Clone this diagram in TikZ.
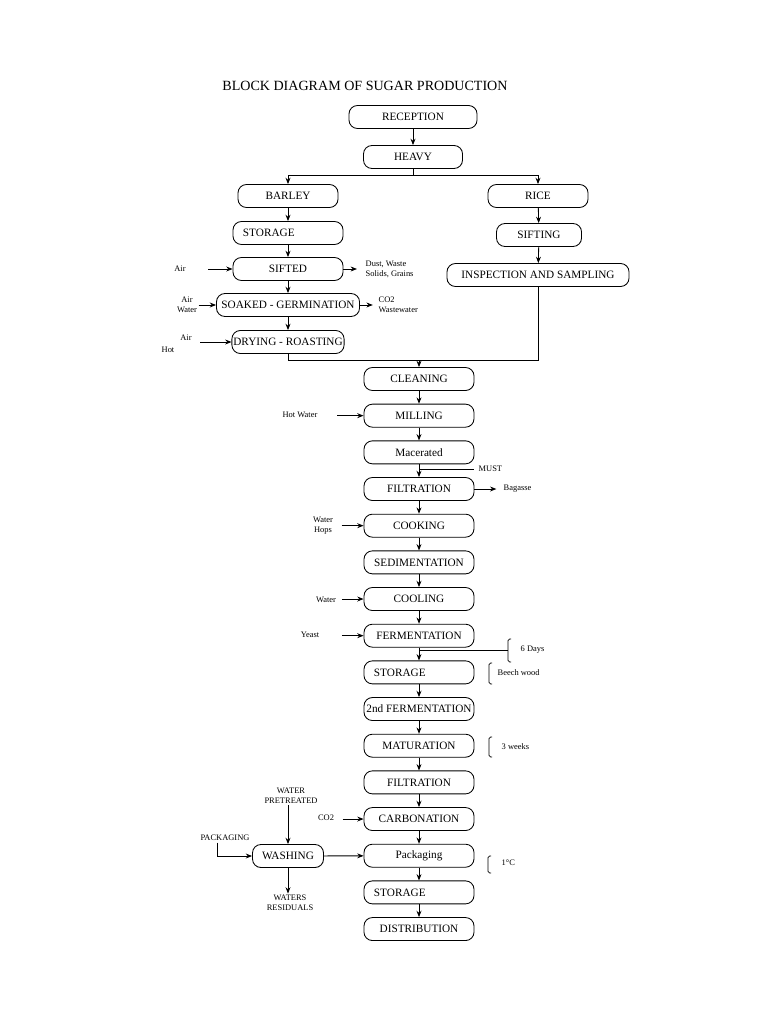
\documentclass[tikz,border=0pt]{standalone}
\usepackage{fontspec}
\setmainfont{Liberation Serif}
\usetikzlibrary{arrows.meta,positioning}
\tikzset{
    stage/.style={draw, rounded corners=6pt, line width=0.6pt,
        minimum width=#1, minimum height=0.575cm, inner sep=1pt,
        font=\fontsize{8}{9.5}\selectfont},
    stage/.default=2.75cm,
    stageleft/.style={stage, text width=2.25cm, align=left, inner xsep=0.25cm},
    flow/.style={line width=0.6pt, -{Stealth[length=4.5pt, width=3.5pt]}},
    plain/.style={line width=0.6pt},
    lbl/.style={font=\fontsize{6}{7}\selectfont, inner sep=1pt, align=center},
    bracketline/.style={line width=0.5pt, rounded corners=1.2pt}
}

\begin{document}
\begin{tikzpicture}[x=0.025cm, y=-0.025cm]
    \fill[white] (0,0) rectangle (768,1024);
    \useasboundingbox (0,0) rectangle (768,1024);

    \node[font=\fontsize{10}{12}\selectfont] (title) at (365,86) {BLOCK DIAGRAM OF SUGAR PRODUCTION};

    \node[stage=3.2cm] (recep) at (413,117) {RECEPTION};
    \node[stage=2.475cm] (heavy) at (413,157) {HEAVY};
    \node[stage=2.5cm] (barley) at (288,196) {BARLEY};
    \node[stage=2.5cm] (rice) at (538,196) {RICE};
    \node[stageleft] (bstore) at (288,233) {STORAGE};
    \node[stage] (sifted) at (288,269) {SIFTED};
    \node[stage=3.575cm] (soaked) at (288,305) {SOAKED - GERMINATION};
    \node[stage] (drying) at (288,342) {DRYING - ROASTING};
    \node[stage=2.125cm] (sifting) at (539,235) {SIFTING};
    \node[stage=4.55cm] (inspect) at (538,275) {INSPECTION AND SAMPLING};

    % main column
    \foreach \nm/\txt/\sty [count=\i] in {
        clean/CLEANING/stage, mill/MILLING/stage, mace/Macerated/stage,
        filt/FILTRATION/stage, cook/COOKING/stage, sedi/SEDIMENTATION/stage,
        cool/COOLING/stage, ferm/FERMENTATION/stage, store/STORAGE/stageleft,
        ferm2/2nd FERMENTATION/stage, matur/MATURATION/stage, filt2/FILTRATION/stage,
        carb/CARBONATION/stage, pack/Packaging/stage, store2/STORAGE/stageleft,
        distr/DISTRIBUTION/stage}{
        \node[\sty] (\nm) at (419, {379+(\i-1)*36.67}) {\txt};
    }
    \foreach \a/\b in {clean/mill, mill/mace, mace/filt, filt/cook, cook/sedi,
        sedi/cool, cool/ferm, ferm/store, store/ferm2, ferm2/matur,
        matur/filt2, filt2/carb, carb/pack, pack/store2, store2/distr}{
        \draw[flow] (\a) -- (\b);
    }

    \draw[flow] (recep) -- (heavy);
    \coordinate (split) at (413,175);
    \draw[plain] (heavy) -- (split);
    \draw[flow] (split) -| (barley);
    \draw[flow] (split) -| (rice);
    \foreach \a/\b in {barley/bstore, bstore/sifted, sifted/soaked, soaked/drying,
        rice/sifting, sifting/inspect}{
        \draw[flow] (\a) -- (\b);
    }
    \coordinate (join) at (419,360);
    \draw[plain] (drying.south) |- (join);
    \draw[plain] (inspect.south) |- (join);
    \draw[flow] (join) -- (clean);

    % inputs and outputs
    \node[lbl] (air1) at (180,269) {Air};
    \node[lbl, anchor=west, align=left] (dust) at (364,269) {Dust, Waste\\Solids, Grains};
    \node[lbl] (airw) at (187,305) {Air\\Water};
    \node[lbl, anchor=west, align=left] (co2a) at (377,305) {CO2\\Wastewater};
    \node[lbl] (air2) at (186,338) {Air};
    \node[lbl] (hot) at (168,350) {Hot};
    \node[lbl] (hotw) at (300,415) {Hot Water};
    \node[lbl, anchor=west] (must) at (477,469) {MUST};
    \node[lbl, anchor=west] (bag) at (502,489) {Bagasse};
    \node[lbl] (wathops) at (323,526) {Water\\Hops};
    \node[lbl] (water) at (326,600) {Water};
    \node[lbl] (yeast) at (310,635) {Yeast};
    \node[lbl, anchor=west] (days) at (519,650) {6 Days};
    \node[lbl, anchor=west] (beech) at (496,673) {Beech wood};
    \node[lbl, anchor=west] (weeks) at (500,747) {3 weeks};
    \node[lbl, anchor=west] (temp) at (500,863) {1°C};
    \node[lbl] (co2b) at (326,818) {CO2};

    \draw[flow, shorten <=15pt] (air1.east |- sifted) -- (sifted.west);
    \draw[flow, shorten >=5pt] (sifted.east) -- (dust.west |- sifted);
    \draw[flow] (airw.east |- soaked) -- (soaked.west);
    \draw[flow, shorten >=3pt] (soaked.east) -- (co2a.west |- soaked);
    \draw[flow, shorten <=5pt] (air2.east |- drying) -- (drying.west);
    \draw[flow, shorten <=13pt] (hotw.east |- mill) -- (mill.west);
    \draw[plain, shorten >=2pt] (mace.south |- must) -- (must.west);
    \draw[flow, shorten >=4pt] (filt.east) -- (bag.west |- filt);
    \draw[flow, shorten <=5pt] (wathops.east |- cook) -- (cook.west);
    \draw[flow, shorten <=3pt] (water.east |- cool) -- (cool.west);
    \draw[flow, shorten <=15pt] (yeast.east |- ferm) -- (ferm.west);
    \draw[flow, shorten <=5pt] (co2b.east |- carb) -- (carb.west);

    \coordinate (dayb) at (508,650);
    \draw[plain] (ferm.south |- dayb) -- (dayb);
    \foreach \bx/\ytop/\ybot in {508/639/662, 489/663/684, 489/737/757, 488/856/873}{
        \draw[bracketline] ({\bx+3},\ytop) -- (\bx,\ytop) -- (\bx,\ybot) -- ({\bx+3},\ybot);
    }

    % washing
    \node[stage=1.775cm] (wash) at (288,856) {WASHING};
    \node[lbl] (wpre) at (291,796) {WATER\\PRETREATED};
    \node[lbl] (pkg) at (225,838) {PACKAGING};
    \node[lbl] (wres) at (290,903) {WATERS\\RESIDUALS};
    \draw[flow] (wash) -- (pack);
    \draw[flow] (wpre.south -| wash.north) -- (wash.north);
    \draw[flow] ([xshift=-5.7pt]pkg.south) |- (wash.west);
    \draw[flow] (wash.south) -- (wash.south |- wres.north);
\end{tikzpicture}
\end{document}
